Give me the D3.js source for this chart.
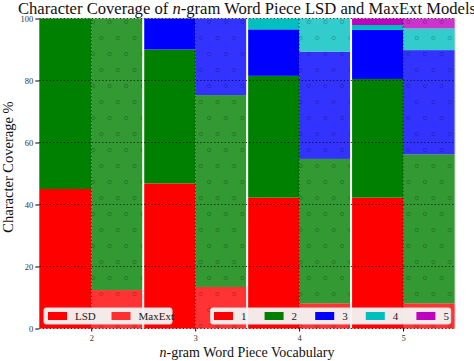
<!DOCTYPE html>
<html><head><meta charset="utf-8">
<script src="https://cdn.jsdelivr.net/npm/d3@7"></script>
<style>body{margin:0;background:#fff}svg{display:block}</style>
</head><body>
<svg id="c" width="474" height="361"></svg>
<script>
const categories = [2, 3, 4, 5];
const ngramLabels = ["1", "2", "3", "4", "5"];
const colors = ["#ff0000", "#008000", "#0000ff", "#00bfbf", "#bf00bf"];
// LSD model: coverage per n-gram length (1..5) for each vocabulary
const lsd1 = [45.0, 46.8, 42.2, 42.2];
const lsd2 = [55.0, 43.2, 39.3, 38.3];
const lsd3 = [0, 10.0, 15.0, 15.8];
const lsd4 = [0, 0, 3.5, 1.6];
const lsd5 = [0, 0, 0, 2.1];
// MaxExt model
const me1 = [12.4, 13.4, 8.1, 8.1];
const me2 = [87.6, 61.9, 46.6, 48.1];
const me3 = [0, 24.7, 34.6, 33.6];
const me4 = [0, 0, 10.7, 7.0];
const me5 = [0, 0, 0, 3.2];
const yTicks = [0, 20, 40, 60, 80, 100];
const models = ["LSD", "MaxExt"];

const svg = d3.select("#c");
const x = d3.scaleLinear().domain([1.5, 5.5]).range([39.3, 455]);
const y = d3.scaleLinear().domain([0, 100]).range([328.5, 18.5]);
const serif = "'Liberation Serif', 'DejaVu Serif', serif";

const defs = svg.append("defs");
const pat = defs.append("pattern").attr("id", "hatch").attr("patternUnits", "userSpaceOnUse")
  .attr("width", 16.6).attr("height", 32).attr("x", 6).attr("y", 2);
[[12.3, 4], [4, 20]].forEach(([cx, cy]) => {
  pat.append("circle").attr("cx", cx).attr("cy", cy).attr("r", 1.7)
    .attr("fill", "none").attr("stroke", "rgba(0,0,0,0.25)").attr("stroke-width", 0.8);
});

function stacks(series) {
  return categories.map((c, i) => {
    let acc = 0;
    return series.map((s, k) => { const y0 = acc; acc += s[i]; return {cat: c, k, y0, y1: acc}; });
  });
}
const lsdStacks = stacks([lsd1, lsd2, lsd3, lsd4, lsd5]);
const meStacks = stacks([me1, me2, me3, me4, me5]);

const gBars = svg.append("g");
lsdStacks.flat().filter(d => d.y1 > d.y0).forEach(d => {
  gBars.append("rect").attr("x", x(d.cat - 0.5)).attr("width", x(d.cat) - x(d.cat - 0.5))
    .attr("y", y(d.y1)).attr("height", y(d.y0) - y(d.y1)).attr("fill", colors[d.k]);
});
meStacks.flat().filter(d => d.y1 > d.y0).forEach(d => {
  gBars.append("rect").attr("x", x(d.cat)).attr("width", x(d.cat + 0.5) - x(d.cat))
    .attr("y", y(d.y1)).attr("height", y(d.y0) - y(d.y1)).attr("fill", colors[d.k]).attr("fill-opacity", 0.8);
  gBars.append("rect").attr("x", x(d.cat)).attr("width", x(d.cat + 0.5) - x(d.cat))
    .attr("y", y(d.y1)).attr("height", y(d.y0) - y(d.y1)).attr("fill", "url(#hatch)");
});

[2.5, 3.5, 4.5].forEach(v => {
  svg.append("line").attr("x1", x(v)).attr("x2", x(v)).attr("y1", y(100)).attr("y2", y(0))
    .attr("stroke", "#fff").attr("stroke-width", 2);
});

const grid = svg.append("g").attr("stroke", "#000").attr("stroke-opacity", 0.75)
  .attr("stroke-width", 1).attr("stroke-dasharray", "1.2,2.3");
yTicks.forEach(t => grid.append("line").attr("x1", x(1.5)).attr("x2", x(5.5)).attr("y1", y(t)).attr("y2", y(t)));
categories.forEach(c => grid.append("line").attr("x1", x(c)).attr("x2", x(c)).attr("y1", y(0)).attr("y2", y(100)));
svg.append("line").attr("x1", x(5.5)).attr("x2", x(5.5)).attr("y1", y(0)).attr("y2", y(100))
  .attr("stroke", "#ccc").attr("stroke-width", 1);

const yAxis = d3.axisLeft(y).tickValues(yTicks).tickSize(4).tickPadding(2);
const gy = svg.append("g").attr("transform", `translate(${x(1.5)},0)`).call(yAxis);
gy.select(".domain").remove();
gy.selectAll("text").attr("font-family", serif).attr("font-size", 8.5).attr("fill", "#333");
const xAxis = d3.axisBottom(x).tickValues(categories).tickFormat(d3.format("d")).tickSize(3).tickPadding(3);
const gx = svg.append("g").attr("transform", `translate(0,${y(0)})`).call(xAxis);
gx.select(".domain").remove();
gx.selectAll("text").attr("font-family", serif).attr("font-size", 8.5).attr("fill", "#333");

function legend(x0, y0, w, h, items) {
  const g = svg.append("g");
  g.append("rect").attr("x", x0).attr("y", y0).attr("width", w).attr("height", h).attr("rx", 2)
    .attr("fill", "rgba(244,244,244,0.95)").attr("stroke", "#ddd");
  items.forEach(it => {
    g.append("rect").attr("x", it.px).attr("y", y0 + 4).attr("width", 19).attr("height", 8)
      .attr("fill", it.color).attr("fill-opacity", it.op);
    g.append("text").attr("x", it.px + 27).attr("y", y0 + 11.5).text(it.label)
      .attr("font-family", serif).attr("font-size", 11).attr("fill", "#222");
  });
}
legend(44, 308, 128, 16, models.map((m, i) => ({label: m, color: colors[0], op: i ? 0.8 : 1, px: 48 + i * 63.5})));
legend(210.7, 308, 240, 16, ngramLabels.map((l, i) => ({label: l, color: colors[i], op: 1, px: 214 + i * 50.6})));

const t = svg.append("text").attr("x", 18).attr("y", 13.5)
  .attr("font-family", serif).attr("font-size", 16.5).attr("fill", "#111")
  .attr("textLength", 458).attr("lengthAdjust", "spacingAndGlyphs");
t.append("tspan").text("Character Coverage of ");
t.append("tspan").attr("font-style", "italic").text("n");
t.append("tspan").text("-gram Word Piece LSD and MaxExt Models");

const xl = svg.append("text").attr("x", 247).attr("y", 357).attr("text-anchor", "middle")
  .attr("font-family", serif).attr("font-size", 14).attr("fill", "#111");
xl.append("tspan").attr("font-style", "italic").text("n");
xl.append("tspan").text("-gram Word Piece Vocabulary");

svg.append("text").attr("transform", "translate(12.5,167) rotate(-90)").attr("text-anchor", "middle")
  .attr("font-family", serif).attr("font-size", 14.5).attr("fill", "#111").text("Character Coverage %");
</script>
</body></html>
